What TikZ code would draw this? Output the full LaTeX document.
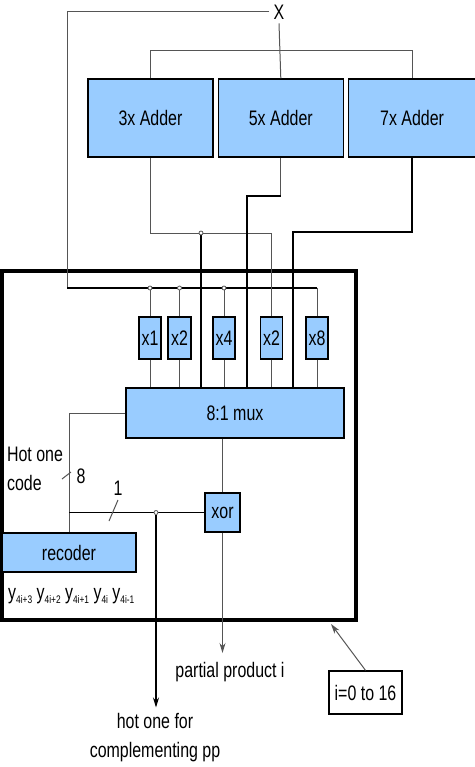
\documentclass[tikz,border=0pt]{standalone}
\usepackage{fontspec}
\setmainfont{Liberation Sans}[FakeStretch=0.76]
\usetikzlibrary{arrows.meta, positioning}
\definecolor{boxblue}{RGB}{153,204,255}
\definecolor{wiregray}{RGB}{85,85,85}
\newcommand{\ybit}[1]{y\raisebox{-4pt}{\fontsize{11}{12}\selectfont #1}}
\tikzset{%
  txt/.style={font=\fontsize{21}{29}\selectfont, inner sep=0pt},
  block/.style={txt, draw=black, line width=1.3pt, fill=boxblue},
  adder/.style={block, minimum width=125pt, minimum height=78pt},
  shifter/.style={block, minimum width=22pt, minimum height=42pt},
  wire/.style={draw=wiregray, line width=1pt},
  bus/.style={draw=black, line width=2pt},
  tap/.style={circle, draw=wiregray, fill=white, line width=0.8pt,
    minimum size=4pt, inner sep=0pt},
  feed/.style={-{Stealth[length=10pt,width=6pt]}},
}

\begin{document}
\begin{tikzpicture}[x=1pt, y=-1pt]
  \useasboundingbox (0,0) rectangle (474,767);
  % one partial product slice
  \draw[line width=4pt] (2,271) rectangle (356,620);

  % multiples of X
  \node[adder] (add3) at (150.5,118) {3x Adder};
  \node[adder, right=4pt of add3] (add5) {5x Adder};
  \node[adder, right=4pt of add5, minimum width=127pt] (add7) {7x Adder};
  \node[txt, inner sep=4pt] (xin) at (279,12) {X};
  \draw[wire] (xin.south) -- (add5.north);
  \draw[wire] (add3.north) -- ++(0,-28) -| (add7.north);

  \node[shifter] (s1) at (150,338) {x1};
  \node[shifter, minimum width=23pt] (s2) at (179.5,338) {x2};
  \node[shifter] (s4) at (224,338) {x4};
  \node[shifter] (s6) at (271.5,338) {x2};
  \node[shifter] (s8) at (317,338) {x8};
  \node[block, minimum width=218pt, minimum height=50pt] (mux) at (235,413) {8:1 mux};

  % X bus
  \coordinate (busl) at (67,288);
  \coordinate (busr) at (317,288);
  \draw[wire] (xin.west) -| (busl);
  \draw[bus] (busl) -- (busr);
  \draw[wire] (busr) -- (s8.north);
  \foreach \s in {s1,s2,s4} {
    \draw[wire] (\s.north |- busl) -- (\s.north);
    \node[tap] at (\s.north |- busl) {};
  }
  \foreach \s in {s1,s2,s4,s6,s8}
    \draw[wire] (\s.south) -- (\s.south |- mux.north);

  % adder outputs into the mux
  \coordinate (in3) at (201,233);
  \coordinate (in5) at (247,388);
  \coordinate (in7) at (293,388);
  \draw[wire] (add3.south) -- ++(0,76) -| (s6.north);
  \draw[bus] (in3) -- (in3 |- mux.north);
  \node[tap] (t3) at (in3) {};
  \draw[wire] (add5.south) -- ++(0,38) coordinate (k5);
  \draw[bus] (k5) -| (in5);
  \draw[bus] (add7.south) -- ++(0,74) -| (in7);

  % select and sign
  \node[block, minimum width=134pt, minimum height=39pt] (rec) at (69,552.5) {recoder};
  \node[block, minimum width=35pt, minimum height=39pt] (xor) at (222.5,512.5) {xor};
  \draw[wire] (mux.west) -| (rec.north);
  \draw[wire] (mux.south -| xor.north) -- (xor.north);
  \coordinate (j) at (rec.north |- xor.west);
  \draw[wire, draw=black] (j) -- (xor.west);
  \node[txt, align=left] (code) at (35,469) {Hot one\\code};
  \draw[wire] (62,479) -- (71,472);
  \node[txt] (w8) at (81,476) {8};
  \draw[wire] (109,521) -- (118,500);
  \node[txt] (w1) at (118,488) {1};
  \node[txt, anchor=west] (ybits) at (8,596)
    {\ybit{4i+3} \ybit{4i+2} \ybit{4i+1} \ybit{4i} \ybit{4i-1}};

  % outputs
  \node[txt] (pp) at (230,672) {partial product i};
  \node[txt, align=center] (hot) at (155,738) {hot one for\\complementing pp};
  \node[tap] (d) at (156,512.5) {};
  \draw[bus, feed] (d) -- ([yshift=6pt]d |- hot.north);
  \draw[wire, feed] (xor.south) -- ([yshift=9pt]xor.south |- pp.north);

  \node[txt, draw, line width=1.3pt, minimum width=73pt, minimum height=43pt]
    (irange) at (365.5,692.5) {i=0 to 16};
  \coordinate (fr) at (331,624);
  \draw[wire, feed] (irange.north) -- (fr);
\end{tikzpicture}
\end{document}
